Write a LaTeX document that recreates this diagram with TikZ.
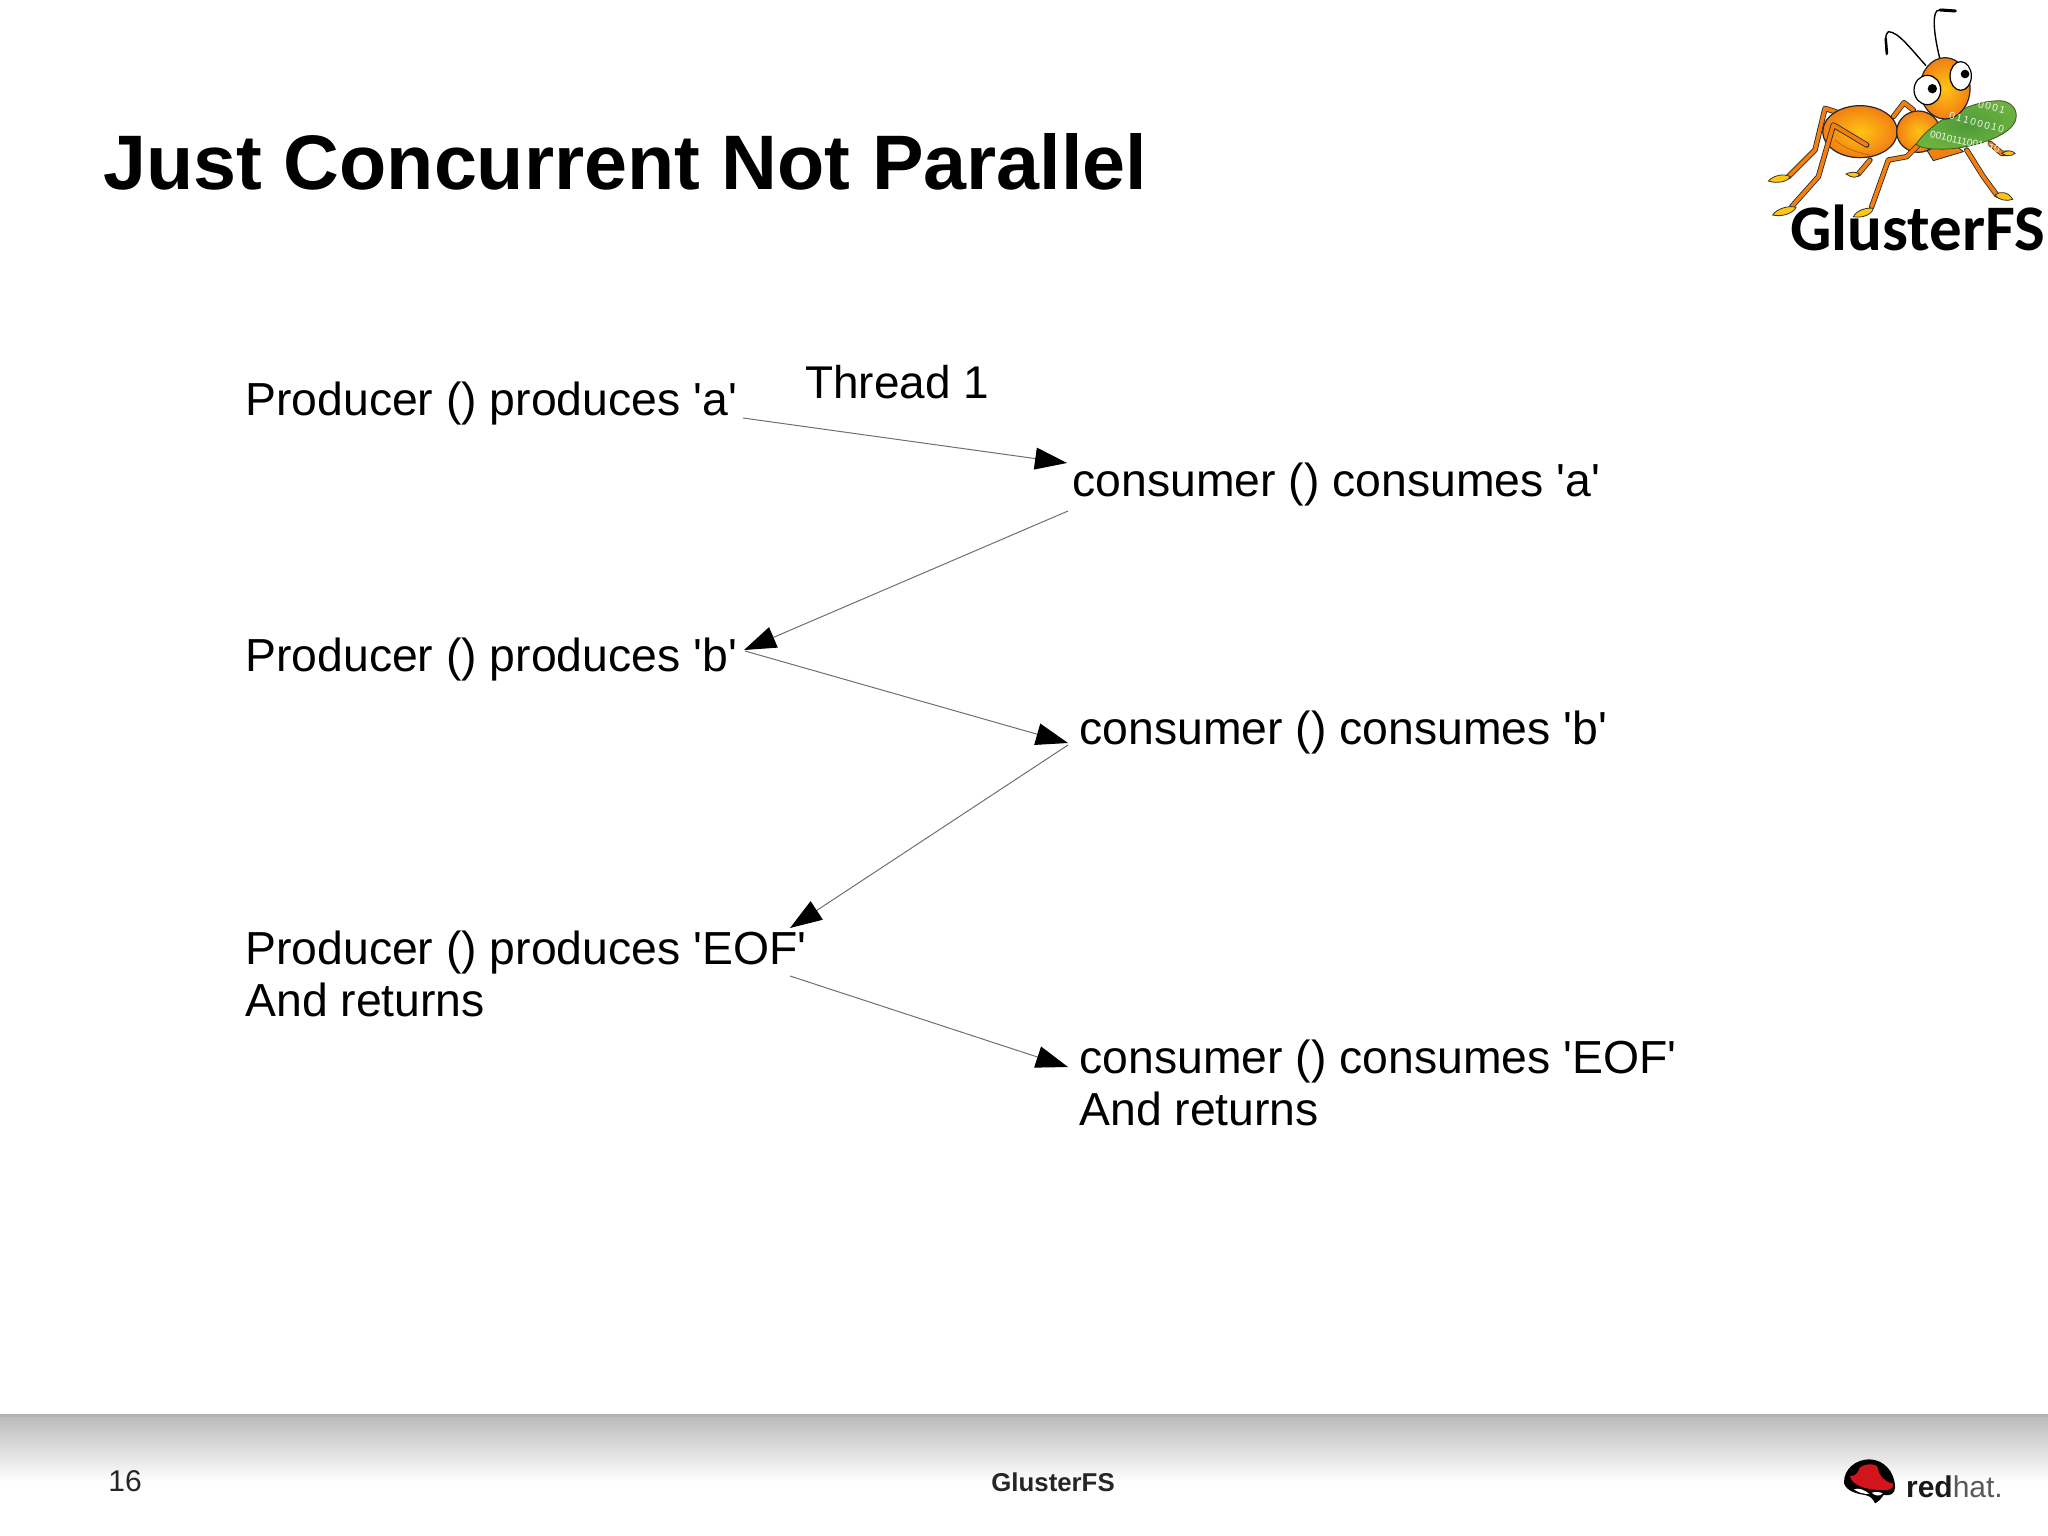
\documentclass[tikz,border=0pt]{standalone}
\usepackage{fontspec}
\newfontfamily\mainsans{Liberation Sans}
\newfontfamily\logofont{Carlito}
\usetikzlibrary{arrows.meta}
\definecolor{antorange}{HTML}{F27F12}
\definecolor{antyellow}{HTML}{FFC414}
\definecolor{leafgreen}{HTML}{6DB23F}
\definecolor{leafdark}{HTML}{4E9A3A}
\definecolor{hatred}{HTML}{D2141C}
\definecolor{linegray}{HTML}{707070}
\tikzset{
  label text/.style={anchor=base west,inner sep=0pt,align=left,text=black,font=\mainsans\fontsize{23.17}{26}\selectfont},
  flow/.style={draw=linegray,line width=0.5pt,-{Triangle[length=16pt,width=11pt,fill=black,color=black]}},
  antline/.style={draw=black!85,line width=2.7pt,line cap=round,line join=round},
  antfill/.style={draw=antorange,line width=1.9pt,line cap=round,line join=round},
  antbody/.style={draw=black!85,line width=0.6pt,inner color=antyellow,outer color=antorange},
  foot/.style={draw=black!80,line width=0.4pt,fill=antyellow},
  eye/.style={draw=black,line width=0.6pt,fill=white},
  bits/.style={inner sep=0pt,text=white!90!leafgreen,font=\mainsans\fontsize{5}{5}\selectfont},
}
\newcommand{\antleg}[1]{\draw[antline] #1; \draw[antfill] #1;}
\begin{document}
\begin{tikzpicture}[x=0.5pt,y=-0.5pt]
\useasboundingbox (0,0) rectangle (2048,1535);
\fill[white] (0,0) rectangle (2048,1535);
% footer band
\shade[top color=black!27,bottom color=white] (0,1415) rectangle (2048,1482);
\fill[black!30] (0,1414) rectangle (2048,1417);
% title and footer text
\node[anchor=base west,inner sep=0pt,font=\mainsans\fontsize{38.65}{44}\selectfont\bfseries] (title) at (103,190) {Just Concurrent Not Parallel};
\node[anchor=base west,inner sep=0pt,text=black!85,font=\mainsans\fontsize{15}{18}\selectfont] (pageno) at (108,1491) {16};
\node[anchor=base west,inner sep=0pt,text=black!85,font=\mainsans\fontsize{12.9}{16}\selectfont\bfseries] (footer) at (991,1491) {GlusterFS};
% labels
\node[label text] (pa) at (245,415) {Producer () produces 'a'};
\node[label text,font=\mainsans\fontsize{22.95}{26}\selectfont] (thread) at (805,398) {Thread 1};
\node[label text] (ca) at (1072,496) {consumer () consumes 'a'};
\node[label text] (pb) at (245,671) {Producer () produces 'b'};
\node[label text] (cb) at (1079,744) {consumer () consumes 'b'};
\node[label text] (pe) at (245,1016) {Producer () produces 'EOF'\\And returns};
\node[label text] (ce) at (1079,1125) {consumer () consumes 'EOF'\\And returns};
% connector ends
\coordinate (a1s) at (743,418);
\coordinate (a1e) at (1067,463);
\coordinate (a2s) at (1068,511);
\coordinate (a2e) at (744,650);
\coordinate (a3s) at (745,651);
\coordinate (a3e) at (1068,743);
\coordinate (a4s) at (1068,745);
\coordinate (a4e) at (790,928);
\coordinate (a5s) at (790,976);
\coordinate (a5e) at (1068,1067);
\draw[flow] (a1s) -- (a1e);
\draw[flow] (a2s) -- (a2e);
\draw[flow] (a3s) -- (a3e);
\draw[flow] (a4s) -- (a4e);
\draw[flow] (a5s) -- (a5e);
% GlusterFS ant logo, in coordinates of a 3x crop
\begin{scope}[shift={(1720,0)},x=0.16667pt,y=-0.16667pt]
  % antennae
  \draw[black,line width=0.7pt] (618,197) .. controls (575,150) and (535,95) .. (505,95) .. controls (495,100) and (495,130) .. (500,165);
  \draw[black,line width=1.2pt,line cap=round] (497,115) -- (501,160);
  \draw[black,line width=0.7pt] (660,178) .. controls (645,120) and (635,50) .. (650,33) .. controls (665,25) and (690,30) .. (708,33);
  \draw[black,line width=1.5pt,line cap=round] (660,30) -- (706,33);
  % far legs
  \antleg{(520,350) -- (552,308) -- (580,330)}
  \antleg{(450,480) -- (415,522)}
  \antleg{(810,430) -- (845,460) -- (865,460)}
  % near legs
  \antleg{(360,340) -- (315,325) -- (285,450) -- (205,530)}
  \antleg{(740,450) -- (790,530) -- (830,585)}
  % abdomen, thorax
  \shade[antbody] (420,395) ellipse [x radius=112,y radius=78];
  \draw[antorange!80!black,line width=0.4pt] (345,420) .. controls (380,450) and (420,460) .. (450,465);
  \fill[antorange,draw=black!85,line width=0.4pt] (620,450) -- (640,482) -- (730,455) -- (700,430) -- cycle;
  \shade[antbody] (595,395) ellipse [x radius=65,y radius=62];
  \antleg{(440,435) -- (340,375) -- (295,530) -- (215,620)}
  \antleg{(600,430) -- (560,470) -- (505,480) -- (455,620)}
  % feet
  \draw[foot] (145,543) .. controls (160,525) and (195,520) .. (210,530) .. controls (205,545) and (170,552) .. (145,543) -- cycle;
  \draw[foot] (158,645) .. controls (170,625) and (210,615) .. (228,622) .. controls (220,640) and (185,652) .. (158,645) -- cycle;
  \draw[foot] (378,522) .. controls (390,515) and (410,515) .. (418,522) .. controls (415,535) and (395,535) .. (378,522) -- cycle;
  \draw[foot] (400,650) .. controls (410,630) and (440,622) .. (460,625) .. controls (455,645) and (425,655) .. (400,650) -- cycle;
  \draw[foot] (825,585) .. controls (840,572) and (865,575) .. (878,598) .. controls (860,605) and (835,600) .. (825,585) -- cycle;
  \draw[foot] (845,460) .. controls (860,450) and (875,450) .. (885,460) .. controls (875,470) and (855,468) .. (845,460) -- cycle;
  % leaf
  \draw[inner color=leafdark,outer color=leafgreen,draw=leafgreen!50!black,line width=0.4pt] (588,433) .. controls (640,355) and (770,295) .. (850,303) .. controls (885,312) and (895,340) .. (885,365) .. controls (860,420) and (720,452) .. (650,447) .. controls (620,447) and (600,442) .. (588,433) -- cycle;
  % head
  \shade[antbody] (675,265) ellipse [x radius=75,y radius=92];
  \draw[eye] (622,270) ellipse [x radius=40,y radius=44];
  \draw[eye] (722,228) ellipse [x radius=32,y radius=43];
  \fill[black] (637,266) circle [radius=14];
  \fill[black] (735,222) circle [radius=13];
  % leaf digits
  \node[bits,rotate=-15] (bits1) at (815,322) {0\,0\,0\,1};
  \node[bits,rotate=-15] (bits2) at (770,368) {0\,1\,1\,0\,0\,0\,1\,0};
  \node[bits,rotate=-12] (bits3) at (735,425) {0010111001010};
  % wordmark
  \node[anchor=base west,inner sep=0pt,text=black,font=\logofont\bfseries\fontsize{32.5}{36}\selectfont] (gfs) at (210,750) {GlusterFS};
\end{scope}
% Red Hat logo, in coordinates of a 3x crop
\begin{scope}[shift={(1780,1400)},x=0.16667pt,y=-0.16667pt]
  \fill[black] (192,250) .. controls (190,205) and (230,178) .. (268,178) .. controls (310,178) and (345,215) .. (345,262) .. controls (345,282) and (330,288) .. (310,285) .. controls (305,295) and (295,305) .. (285,310) .. controls (278,295) and (270,288) .. (255,285) .. controls (235,282) and (200,275) .. (192,250) -- cycle;
  \fill[hatred] (210,228) .. controls (225,228) and (232,222) .. (238,205) .. controls (250,190) and (285,190) .. (292,200) .. controls (298,225) and (305,240) .. (340,252) .. controls (342,270) and (320,272) .. (295,270) .. controls (255,268) and (215,255) .. (210,228) -- cycle;
  \fill[white] (222,268) .. controls (235,262) and (255,270) .. (268,282) .. controls (250,282) and (235,278) .. (222,268) -- cycle;
  \fill[white] (275,278) .. controls (285,275) and (300,275) .. (308,280) .. controls (300,290) and (285,288) .. (275,278) -- cycle;
  \node[anchor=base west,inner sep=0pt,font=\mainsans\fontsize{15}{18}\selectfont] (rh) at (377,292) {\textcolor{black!90}{\textbf{red}}\textcolor{black!65}{hat.}};
\end{scope}
\end{tikzpicture}
\end{document}
